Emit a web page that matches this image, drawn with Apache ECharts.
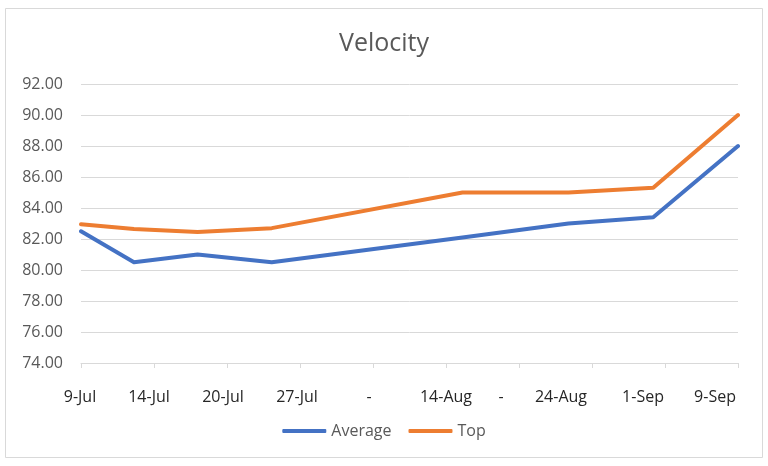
<!DOCTYPE html>
<html>
<head>
<meta charset="utf-8">
<script src="https://cdn.jsdelivr.net/npm/echarts@6/dist/echarts.min.js"></script>
<style>
html,body{margin:0;padding:0;background:#fff;}
#chart{width:768px;height:466px;}
</style>
</head>
<body>
<div id="chart"></div>
<script>
// ---- data ----
var title = 'Velocity';
var tickLabels = ['9-Jul', '14-Jul', '20-Jul', '27-Jul', '-', '14-Aug', '-', '24-Aug', '1-Sep', '9-Sep'];
var dates = ['2023-07-09', '2023-07-14', '2023-07-20', '2023-07-27', '2023-08-14', '2023-08-24', '2023-09-01', '2023-09-09'];
var averageValues = [82.5, 80.5, 81.0, 80.5, 82.1, 83.0, 83.4, 88.0];
var topValues = [82.95, 82.65, 82.45, 82.7, 85.0, 85.0, 85.3, 90.0];
var yMin = 74, yMax = 92, yStep = 2;

// ---- styling (not data) ----
var labelShift = [1, 5, 4, 3, 4, 0, 18, 31, 22, 23];

function pairs(xs, ys) {
  return xs.map(function (d, i) { return [d, ys[i]]; });
}

var rich = {};
labelShift.forEach(function (s, i) {
  rich['s' + i] = { padding: [0, 2 * s, 0, 0], color: '#262626', fontSize: 16, fontFamily: 'Open Sans' };
});

var chart = echarts.init(document.getElementById('chart'), null, { renderer: 'canvas' });
chart.setOption({
  backgroundColor: '#fff',
  animation: false,
  title: {
    text: title,
    left: 'center',
    top: 26,
    textStyle: { fontFamily: 'Open Sans', fontWeight: 'normal', fontSize: 25, color: '#595959' }
  },
  graphic: [{
    type: 'rect',
    shape: { x: 5.5, y: 8.5, width: 757, height: 449 },
    style: { fill: 'none', stroke: '#d9d9d9', lineWidth: 1 },
    silent: true
  }],
  legend: {
    bottom: 22,
    left: 'center',
    itemWidth: 44,
    itemHeight: 4,
    itemGap: 17,
    icon: 'roundRect',
    textStyle: { fontFamily: 'Open Sans', fontSize: 16, color: '#595959' },
    data: ['Average', 'Top']
  },
  grid: { left: 81, right: 30, top: 84, bottom: 103 },
  xAxis: [{
    type: 'category',
    data: tickLabels,
    boundaryGap: false,
    axisLine: { show: true, lineStyle: { color: '#d9d9d9', width: 1 } },
    axisTick: { show: true, length: 5, alignWithLabel: true, lineStyle: { color: '#d9d9d9' } },
    axisLabel: {
      interval: 0,
      margin: 26,
      formatter: function (v, i) { return '{s' + i + '|' + v + '}'; },
      rich: rich
    },
    splitLine: { show: false }
  }, {
    type: 'time',
    show: false,
    min: dates[0],
    max: dates[dates.length - 1]
  }],
  yAxis: {
    type: 'value',
    min: yMin,
    max: yMax,
    interval: yStep,
    axisLine: { show: false },
    axisTick: { show: false },
    axisLabel: {
      margin: 18,
      fontFamily: 'Open Sans',
      fontSize: 16,
      color: '#595959',
      formatter: function (v) { return v.toFixed(2); }
    },
    splitLine: { lineStyle: { color: '#d9d9d9', width: 1 } }
  },
  series: [{
    name: 'Average',
    type: 'line',
    xAxisIndex: 1,
    data: pairs(dates, averageValues),
    showSymbol: false,
    symbol: 'none',
    color: '#4472C4',
    lineStyle: { width: 4, color: '#4472C4', cap: 'round', join: 'round' }
  }, {
    name: 'Top',
    type: 'line',
    xAxisIndex: 1,
    data: pairs(dates, topValues),
    showSymbol: false,
    symbol: 'none',
    color: '#ED7D31',
    lineStyle: { width: 4, color: '#ED7D31', cap: 'round', join: 'round' }
  }]
});
</script>
</body>
</html>
